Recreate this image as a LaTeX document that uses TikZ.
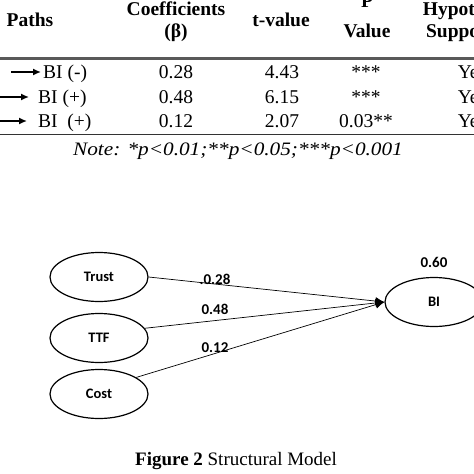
\documentclass[tikz,border=0pt]{standalone}
\usepackage{fontspec}
\setmainfont{Liberation Serif}
\newfontfamily\calib{Carlito}
\usetikzlibrary{shapes.geometric,arrows.meta}
\tikzset{
  hdr/.style={font=\fontsize{19.5}{22}\selectfont\bfseries, anchor=base, inner sep=0pt},
  cell/.style={font=\fontsize{19.5}{22}\selectfont, anchor=base, inner sep=0pt},
  latent/.style={ellipse, draw, line width=1.2pt, minimum width=98pt, minimum height=49pt, inner sep=0pt, font=\calib\fontsize{14.5}{16}\selectfont\bfseries},
  path/.style={draw, line width=0.7pt, -{Latex[length=9pt,width=8pt]}},
  coef/.style={font=\calib\fontsize{15}{17}\selectfont\bfseries, anchor=base, inner sep=0pt},
  tabarrow/.style={line width=1.5pt, -{Latex[length=8pt,width=7pt]}}
}
\begin{document}
\begin{tikzpicture}[x=1pt,y=-1pt]
\useasboundingbox (0,0) rectangle (474,474);
\clip (0,0) rectangle (474,474);
\fill[white] (0,0) rectangle (474,474);
% table header
\node[hdr] (hpaths) at (30,26) {Paths};
\node[hdr] (hcoef1) at (176,15) {Coefficients};
\node[hdr] (hcoef2) at (176,37) {(β)};
\node[hdr] (ht) at (281,26) {t-value};
\node[hdr] (hp1) at (367,7) {P};
\node[hdr] (hp2) at (367,37) {Value};
\node[hdr] (hh1) at (469,15) {Hypothesis};
\node[hdr] (hh2) at (470,37) {Supported};
\draw[line width=2.5pt, black!65] (0,58.5) -- (474,58.5);
% rows
\coordinate (a1s) at (11,72); \coordinate (a1e) at (41,72);
\draw[tabarrow] (a1s) -- (a1e);
\node[cell, anchor=base west] (r1p) at (43,78) {BI (-)};
\node[cell] (r1c) at (176,78) {0.28};
\node[cell] (r1t) at (282,78) {4.43};
\node[cell] (r1v) at (366,78) {***};
\node[cell] (r1h) at (472,78) {Yes};
\coordinate (a2s) at (0,97); \coordinate (a2e) at (29,97);
\draw[tabarrow] (a2s) -- (a2e);
\node[cell, anchor=base west] (r2p) at (38,103) {BI (+)};
\node[cell] (r2c) at (176,103) {0.48};
\node[cell] (r2t) at (282,103) {6.15};
\node[cell] (r2v) at (366,103) {***};
\node[cell] (r2h) at (472,103) {Yes};
\coordinate (a3s) at (-5,121); \coordinate (a3e) at (27,121);
\draw[tabarrow] (a3s) -- (a3e);
\node[cell, anchor=base west] (r3p) at (38,127) {BI\ \ (+)};
\node[cell] (r3c) at (176,127) {0.12};
\node[cell] (r3t) at (282,127) {2.07};
\node[cell] (r3v) at (366,127) {0.03**};
\node[cell] (r3h) at (472,127) {Yes};
\draw[line width=1pt, black!80] (0,134.5) -- (474,134.5);
\node[cell, font=\fontsize{19}{22}\selectfont\itshape, xscale=1.12, transform shape] (note) at (238,155) {Note: *p<0.01;**p<0.05;***p<0.001};
% structural model
\node[latent] (trust) at (99,277) {Trust};
\node[latent] (ttf) at (99,338) {TTF};
\node[latent] (cost) at (99,394) {Cost};
\node[latent] (bi) at (434,302) {BI};
\draw[path] (trust.east) -- (bi.west);
\draw[path] (ttf.12) -- (bi.west);
\draw[path] (cost.24) -- (bi.west);
\node[coef] (l1) at (215,284) {.0.28};
\node[coef] (l2) at (215,314) {0.48};
\node[coef] (l3) at (215,352) {0.12};
\node[coef] (l4) at (434,267) {0.60};
% caption
\node[cell, anchor=base west, font=\fontsize{19}{22}\selectfont] (cap) at (135,465) {\textbf{Figure 2} Structural Model};
\end{tikzpicture}
\end{document}
